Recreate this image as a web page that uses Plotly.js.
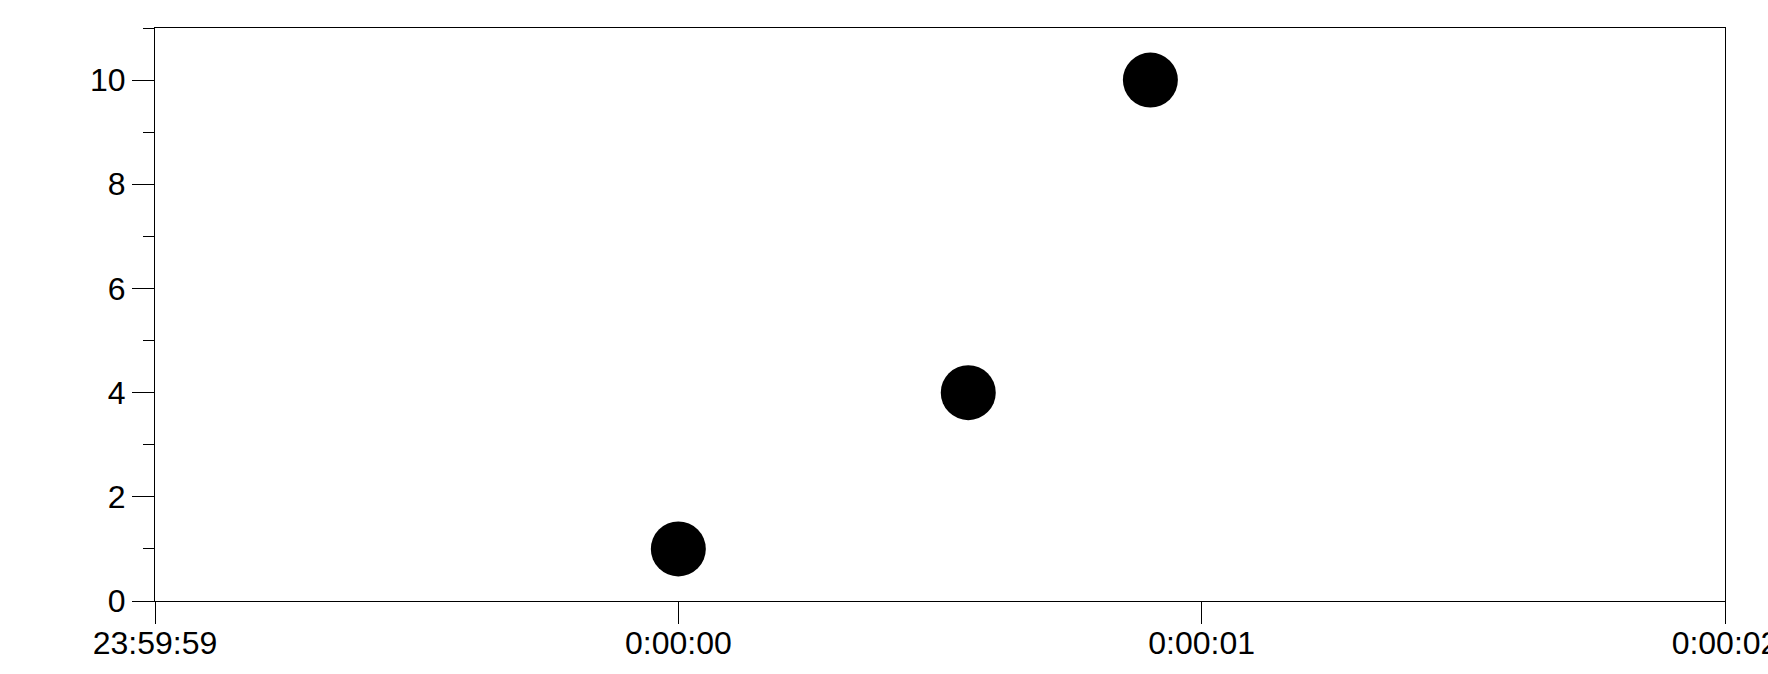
<!DOCTYPE html>
<html>
<head>
<meta charset="utf-8">
<script src="https://cdn.plot.ly/plotly-3.0.1.min.js"></script>
<style>html,body{margin:0;padding:0;background:#fff;}#chart{width:1768px;height:674px;}</style>
</head>
<body>
<div id="chart"></div>
<script>
// Data (x = time stamps around midnight, y = values)
var xTimes = ['2000-01-01 00:00:00', '2000-01-01 00:00:00.554', '2000-01-01 00:00:00.902'];
var yValues = [1, 4, 10];
var xRange = ['1999-12-31 23:59:59', '2000-01-01 00:00:02'];
var yRange = [0, 11];

var trace = {
  type: 'scatter',
  mode: 'markers',
  x: xTimes,
  y: yValues,
  marker: {color: '#000000', size: 55},
  showlegend: false,
  hoverinfo: 'x+y'
};

var font = {family: '"Liberation Sans", Arial, Helvetica, sans-serif', size: 32, color: '#000000'};

var layout = {
  width: 1768,
  height: 674,
  margin: {l: 155, r: 43, t: 28, b: 73, pad: 0},
  paper_bgcolor: '#ffffff',
  plot_bgcolor: '#ffffff',
  font: font,
  showlegend: false,
  xaxis: {
    type: 'date',
    range: xRange,
    dtick: 1000,
    tick0: '2000-01-01 00:00:00',
    tickformat: '%-H:%M:%S',
    ticks: 'outside',
    ticklen: 22,
    tickwidth: 1,
    tickcolor: '#000',
    ticklabeloverflow: 'allow',
    ticklabelstandoff: -8,
    showgrid: false,
    zeroline: false,
    showline: true,
    linecolor: '#000',
    linewidth: 1,
    mirror: true,
    tickfont: font
  },
  yaxis: {
    range: yRange,
    dtick: 2,
    tick0: 0,
    ticks: 'outside',
    ticklen: 22,
    tickwidth: 1,
    tickcolor: '#000',
    minor: {dtick: 1, tick0: 0, ticks: 'outside', ticklen: 11, tickwidth: 1, tickcolor: '#000', showgrid: false},
    showgrid: false,
    zeroline: false,
    showline: true,
    linecolor: '#000',
    linewidth: 1,
    mirror: true,
    tickfont: font
  }
};

Plotly.newPlot('chart', [trace], layout, {displayModeBar: false, staticPlot: true});
</script>
</body>
</html>
